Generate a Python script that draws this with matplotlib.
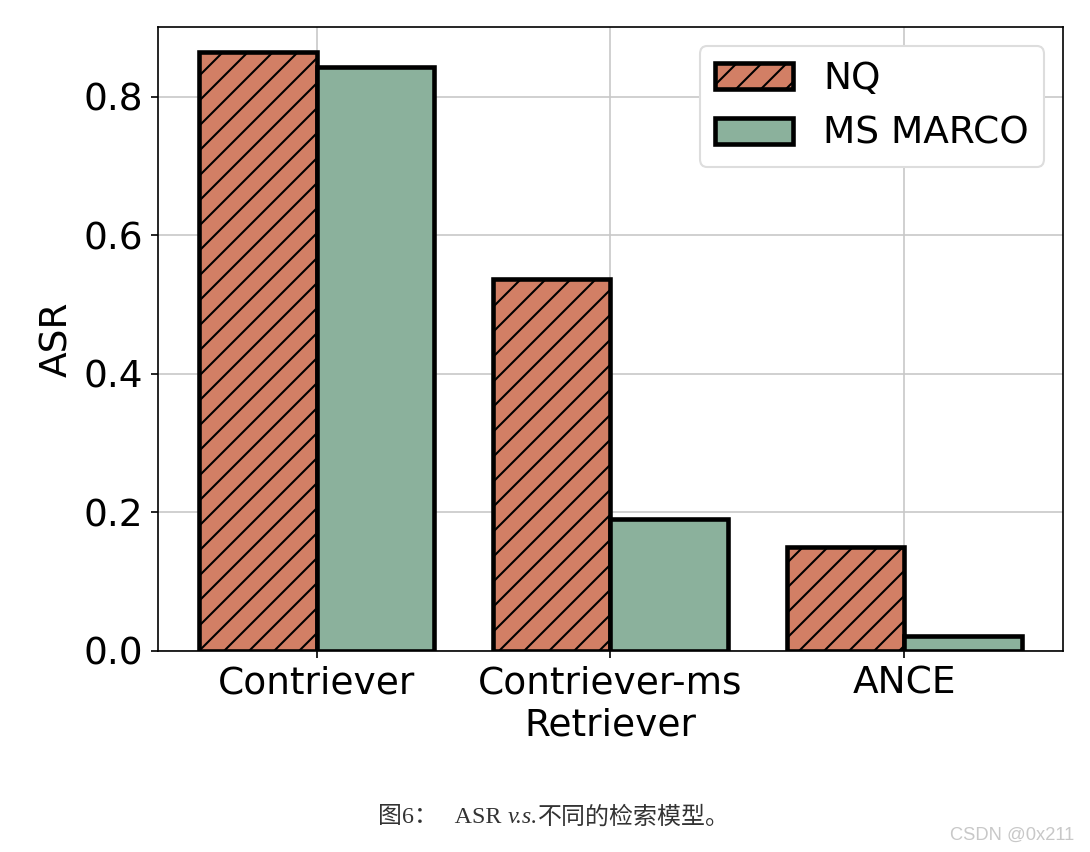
import matplotlib.pyplot as plt
import numpy as np

# ---- data ----
retrievers = ["Contriever", "Contriever-ms\nRetriever", "ANCE"]
nq = [0.865, 0.537, 0.150]
ms_marco = [0.842, 0.191, 0.022]
yticks = [0.0, 0.2, 0.4, 0.6, 0.8]

nq_color = "#d27f65"
ms_color = "#8bb19c"

fig = plt.figure(figsize=(1090 / 150, 852 / 150), dpi=150)
ax = fig.add_axes([0.145, 0.236, 0.83, 0.732])

x = np.arange(len(retrievers))
w = 0.4
ax.bar(x - w, nq, w, align="edge", color=nq_color, edgecolor="black",
       linewidth=2.2, hatch="//", label="NQ", zorder=3)
ax.bar(x, ms_marco, w, align="edge", color=ms_color, edgecolor="black",
       linewidth=2.2, label="MS MARCO", zorder=3)

ax.set_xticks(x)
ax.set_xticklabels(retrievers, fontsize=18)
ax.set_yticks(yticks)
ax.set_yticklabels([f"{v:.1f}" for v in yticks], fontsize=18)
ax.set_ylim(0, 0.9)
ax.set_ylabel("ASR", fontsize=18)
ax.grid(True, color="#c8c8c8", linewidth=0.8, zorder=0)
ax.set_axisbelow(True)

ax.legend(loc="upper right", fontsize=18, framealpha=1, edgecolor="#dddddd",
          handlelength=2.1)

# caption: pieces chained one after another so "v.s." can be italic
cap_font = ["Liberation Serif", "Noto Sans CJK SC"]
cap_kw = dict(fontsize=11.5, color="#333333", family=cap_font)
t1 = fig.text(0.347, 0.04, "图6：   ASR ", ha="left", va="center", **cap_kw)
t2 = fig.add_artist(plt.Annotation("v.s.", xy=(1, 0), xycoords=t1,
                                   va="bottom", ha="left", style="italic",
                                   annotation_clip=False, **cap_kw))
fig.add_artist(plt.Annotation("不同的检索模型。", xy=(1, 0), xycoords=t2,
                              va="bottom", ha="left", annotation_clip=False,
                              **cap_kw))

# watermark
fig.text(0.986, 0.02, "CSDN @0x211", ha="right", va="center", fontsize=8.8,
         color="#c8c8c8", family=["Liberation Sans"])

fig.savefig("out.png", dpi=150)
